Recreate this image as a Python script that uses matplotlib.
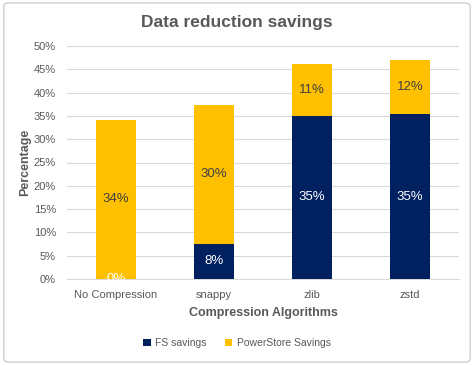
import numpy as np
import matplotlib.pyplot as plt
from matplotlib.patches import FancyBboxPatch

categories = ['No Compression', 'snappy', 'zlib', 'zstd']
fs_savings = [0.0, 7.6, 35.0, 35.4]
ps_savings = [34.2, 29.7, 11.1, 11.6]
fs_labels = ['0%', '8%', '35%', '35%']
ps_labels = ['34%', '30%', '11%', '12%']

plt.rcParams['font.family'] = ['Liberation Sans', 'DejaVu Sans']

fig = plt.figure(figsize=(4.74, 3.65), dpi=100)
fig.patches.append(FancyBboxPatch((0.008, 0.008), 0.984, 0.984, boxstyle='round,pad=0,rounding_size=0.01',
                                  transform=fig.transFigure, facecolor='none', edgecolor='#d0d0d0', lw=1,
                                  zorder=-1))
ax = fig.add_axes([67 / 474, 1 - 279 / 365, 392 / 474, 233 / 365])

x = np.arange(len(categories))
navy = '#002060'
gold = '#FFC000'
ax.bar(x, fs_savings, width=0.41, color=navy, label='FS savings', zorder=3)
ax.bar(x, ps_savings, width=0.41, bottom=fs_savings, color=gold, label='PowerStore Savings', zorder=3)

for i in range(len(categories)):
    ax.text(x[i], fs_savings[i] / 2, fs_labels[i], ha='center', va='center', color='white', fontsize=9.5, zorder=4)
    ax.text(x[i], fs_savings[i] + ps_savings[i] / 2, ps_labels[i], ha='center', va='center',
            color='#404040', fontsize=9.5, zorder=4)

ax.set_ylim(0, 50)
ax.set_xlim(-0.5, 3.5)
ax.set_yticks(range(0, 51, 5))
ax.set_yticklabels([f'{v}%' for v in range(0, 51, 5)])
ax.set_xticks(x)
ax.set_xticklabels(categories)
ax.tick_params(axis='both', length=0, labelsize=8, labelcolor='#595959')
ax.tick_params(axis='y', pad=8)
ax.tick_params(axis='x', pad=8)
ax.grid(axis='y', color='#d9d9d9', lw=0.8, zorder=0)
for s in ['top', 'right', 'left']:
    ax.spines[s].set_visible(False)
ax.spines['bottom'].set_color('#d9d9d9')

ax.set_xlabel('Compression Algorithms', fontsize=9, fontweight='bold', color='#595959', labelpad=5)
ax.set_ylabel('Percentage', fontsize=9, fontweight='bold', color='#595959', labelpad=2)
fig.text(0.5, 1 - 23 / 365, 'Data reduction savings', ha='center', va='center',
         fontsize=12.5, fontweight='bold', color='#595959')

fig.legend(loc='center', bbox_to_anchor=(0.5, 1 - 343 / 365), ncol=2, frameon=False, fontsize=7.5,
           labelcolor='#595959', handlelength=0.7, handleheight=0.7, handletextpad=0.4, columnspacing=1.8)

fig.savefig('out.png', dpi=100)
